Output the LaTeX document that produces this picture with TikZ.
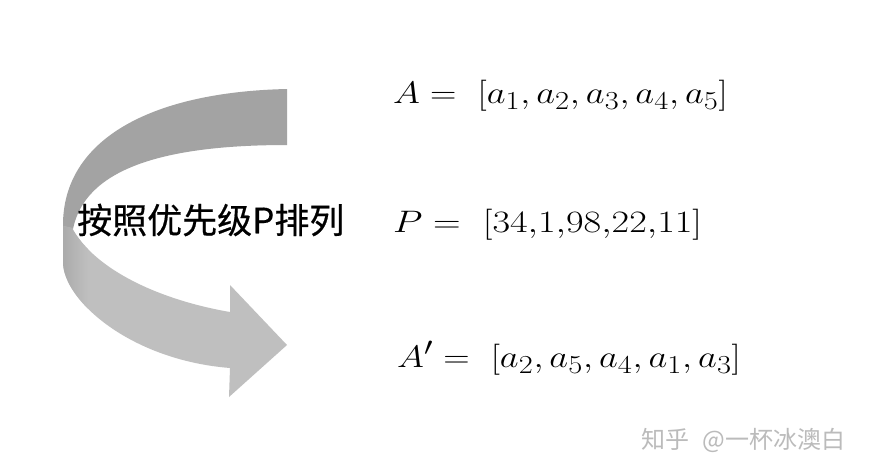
\documentclass[tikz,border=0pt]{standalone}
\usepackage{graphicx}
\usepackage{fontspec}
\newfontfamily\cjk{Noto Sans CJK SC}[FakeBold=0.5]
\newfontfamily\cjkwm{Noto Sans CJK SC}
\definecolor{topgray}{HTML}{A3A3A3}
\definecolor{lowgray}{HTML}{BFBFBF}
\definecolor{edgegray}{HTML}{AAAAAA}
\definecolor{wmgray}{HTML}{BBBBBB}
\newcommand{\bigmath}[2][1.47]{\scalebox{#1}[1.25]{\fontsize{24.88}{30}\selectfont$#2$}}
\tikzset{
  mathline/.style={anchor=base west, inner sep=0pt},
  label/.style={anchor=west, inner sep=0pt, font=\cjk\fontsize{35}{40}\selectfont},
  watermark/.style={anchor=west, inner sep=0pt, text=wmgray, font=\cjkwm\fontsize{24}{27}\selectfont}
}
\begin{document}
\begin{tikzpicture}[x=1pt,y=-1pt]
\useasboundingbox[fill=white] (0,0) rectangle (874,472);
% upper (back) band of the curved arrow
\fill[topgray] (287,89) .. controls (150,92) and (63,140) .. (63,225)
  -- (63,236) -- (73,229) .. controls (85,170) and (160,145) .. (287,145) -- cycle;
% lower (front) band with arrow head
\def\lowerband{(63,226) -- (63,262) .. controls (63,300) and (130,360) .. (230,368)
  -- (229,397) -- (287,345) -- (230,285) -- (230,312)
  .. controls (160,300) and (95,270) .. (72,228) -- cycle}
\fill[lowgray] \lowerband;
\begin{scope}
  \clip \lowerband;
  \shade[left color=edgegray, right color=lowgray] (62,220) rectangle (88,320);
\end{scope}
\node[label] (lbl) at (77,220) {按照优先级P排列};
\node[mathline] (la) at (393,103) {\bigmath{A=\ [a_1,a_2,a_3,a_4,a_5]}};
\node[mathline] (lp) at (393,232) {\bigmath[1.54]{P=\ [34{,}1{,}98{,}22{,}11]}};
\node[mathline] (lb) at (397,367) {\bigmath{A'=\ [a_2,a_5,a_4,a_1,a_3]}};
\node[watermark] (wm) at (641,440) {知乎\hspace{0.55em}@一杯冰澳白};
\end{tikzpicture}
\end{document}
